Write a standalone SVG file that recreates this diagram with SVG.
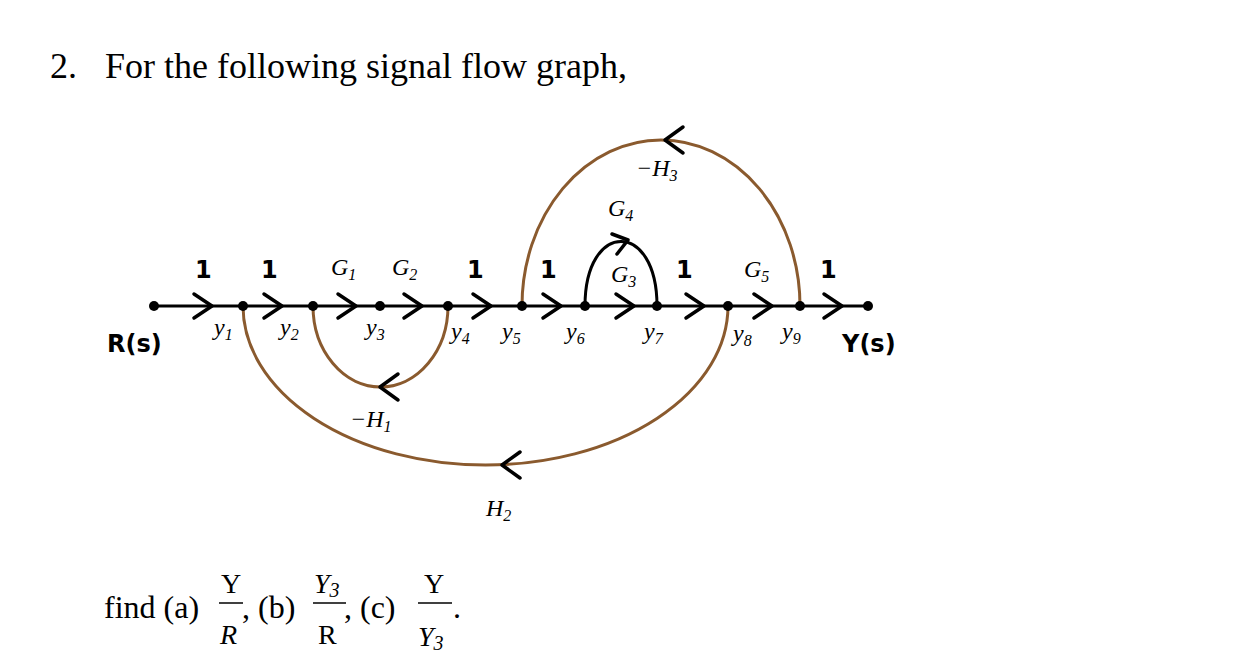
<svg xmlns="http://www.w3.org/2000/svg" width="1243" height="668" viewBox="0 0 1243 668">
<style>
.t{font-family:"Liberation Serif",serif;fill:#000}
.i{font-family:"Liberation Serif",serif;font-style:italic;fill:#000}
.b{font-family:"DejaVu Sans",sans-serif;font-weight:bold;fill:#000}
.ch{fill:none;stroke:#000;stroke-width:3.5;stroke-linecap:round;stroke-linejoin:round}
.arc{fill:none;stroke:#8a5a2e;stroke-width:3}
</style>
<rect width="1243" height="668" fill="#fff"/>
<text class="t" x="50" y="78" font-size="36">2.</text>
<text class="t" x="105" y="78" font-size="36">For the following signal flow graph,</text>
<g id="connectors">
<line x1="154" y1="306" x2="868" y2="306" stroke="#000" stroke-width="3"/>
<path class="arc" d="M522,306 A139,166 0 0 1 800,306"/>
<path class="arc" d="M243,306 A242.5,159 0 0 0 728,306"/>
<path class="arc" d="M313,306 A67.5,81 0 0 0 448,306"/>
<path d="M585,306 C585,220 657,220 657,306" fill="none" stroke="#000" stroke-width="3"/>
<g class="ch">
<path d="M194,294 L212,306 L194,318"/>
<path d="M264,294 L282,306 L264,318"/>
<path d="M338,294 L356,306 L338,318"/>
<path d="M404,294 L422,306 L404,318"/>
<path d="M473,294 L491,306 L473,318"/>
<path d="M543,294 L561,306 L543,318"/>
<path d="M616,294 L634,306 L616,318"/>
<path d="M686,294 L704,306 L686,318"/>
<path d="M754,294 L772,306 L754,318"/>
<path d="M824,294 L842,306 L824,318"/>
<path d="M683,127 L665,140 L683,153"/>
<path d="M520,452 L502,465 L520,478"/>
<path d="M398,374 L380,387 L398,400"/>
<path d="M612,234 L628,240 L617,254"/>
</g>
</g>
<g id="nodes" fill="#000">
<circle id="R" cx="154" cy="306" r="5"/>
<circle id="y1" cx="243" cy="306" r="5"/>
<circle id="y2" cx="313" cy="306" r="5"/>
<circle id="y3" cx="380" cy="306" r="5"/>
<circle id="y4" cx="448" cy="306" r="5"/>
<circle id="y5" cx="522" cy="306" r="5"/>
<circle id="y6" cx="585" cy="306" r="5"/>
<circle id="y7" cx="657" cy="306" r="5"/>
<circle id="y8" cx="728" cy="306" r="5"/>
<circle id="y9" cx="800" cy="306" r="5"/>
<circle id="Y" cx="868" cy="306" r="5"/>
</g>
<g id="labels" font-size="24">
<text class="b" x="107" y="352">R(s)</text>
<text class="b" x="842" y="352">Y(s)</text>
<text class="b" x="195" y="278">1</text>
<text class="b" x="261" y="278">1</text>
<text class="b" x="467" y="278">1</text>
<text class="b" x="540" y="278">1</text>
<text class="b" x="676" y="278">1</text>
<text class="b" x="820" y="278">1</text>
<text class="i" x="331" y="275">G<tspan font-size="16" dy="5">1</tspan></text>
<text class="i" x="392" y="275">G<tspan font-size="16" dy="5">2</tspan></text>
<text class="i" x="611" y="282">G<tspan font-size="16" dy="5">3</tspan></text>
<text class="i" x="608" y="216">G<tspan font-size="16" dy="5">4</tspan></text>
<text class="i" x="744" y="277">G<tspan font-size="16" dy="5">5</tspan></text>
<text class="i" x="636" y="176">−H<tspan font-size="16" dy="5">3</tspan></text>
<text class="i" x="350" y="427">−H<tspan font-size="16" dy="5">1</tspan></text>
<text class="i" x="486" y="516">H<tspan font-size="16" dy="5">2</tspan></text>
<text class="i" x="214" y="335">y<tspan font-size="16" dy="5">1</tspan></text>
<text class="i" x="280" y="335">y<tspan font-size="16" dy="5">2</tspan></text>
<text class="i" x="366" y="335">y<tspan font-size="16" dy="5">3</tspan></text>
<text class="i" x="451" y="339">y<tspan font-size="16" dy="5">4</tspan></text>
<text class="i" x="502" y="339">y<tspan font-size="16" dy="5">5</tspan></text>
<text class="i" x="566" y="339">y<tspan font-size="16" dy="5">6</tspan></text>
<text class="i" x="644" y="339">y<tspan font-size="16" dy="5">7</tspan></text>
<text class="i" x="733" y="341">y<tspan font-size="16" dy="5">8</tspan></text>
<text class="i" x="782" y="339">y<tspan font-size="16" dy="5">9</tspan></text>
</g>
<g id="question" font-size="32">
<text class="t" x="104" y="618">find (a)</text>
<text class="t" x="221" y="593" font-size="28">Y</text>
<line x1="219" y1="603" x2="243" y2="603" stroke="#000" stroke-width="1.5"/>
<text class="i" x="220" y="644" font-size="28">R</text>
<text class="t" x="242" y="618">, (b)</text>
<text class="i" x="314" y="593" font-size="28">Y<tspan font-size="20" dy="4">3</tspan></text>
<line x1="313" y1="603" x2="346" y2="603" stroke="#000" stroke-width="1.5"/>
<text class="t" x="318" y="644" font-size="28">R</text>
<text class="t" x="344" y="618">, (c)</text>
<text class="t" x="424" y="593" font-size="28">Y</text>
<line x1="418" y1="603" x2="452" y2="603" stroke="#000" stroke-width="1.5"/>
<text class="i" x="418" y="646" font-size="28">Y<tspan font-size="20" dy="4">3</tspan></text>
<text class="t" x="453" y="618">.</text>
</g>
</svg>
